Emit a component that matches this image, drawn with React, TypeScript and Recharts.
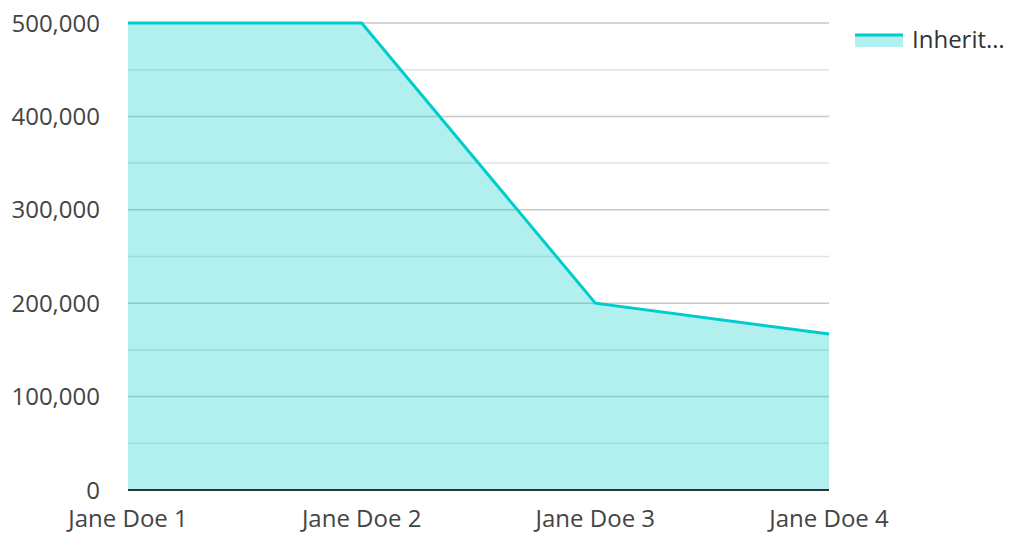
import React from "react";
import { AreaChart, Area, XAxis, YAxis, CartesianGrid, Legend } from "recharts";

const categories = ["Jane Doe 1", "Jane Doe 2", "Jane Doe 3", "Jane Doe 4"];
const inheritValues = [500000, 500000, 200000, 167000];
const yTicks = [0, 100000, 200000, 300000, 400000, 500000];
const minorTicks = [50000, 150000, 250000, 350000, 450000];
const seriesName = "Inherit…";

const data = categories.map((c, i) => ({ name: c, value: inheritValues[i] }));

const COLOR = "#00cccc";
const FONT = "'Open Sans', 'Noto Sans', sans-serif";

const fmt = (v: number) => v.toLocaleString("en-US");

const LegendContent = () => (
  <div style={{ display: "flex", alignItems: "center", fontFamily: FONT, fontSize: 24, color: "#333", whiteSpace: "nowrap" }}>
    <svg width={50} height={16} style={{ marginRight: 8 }}>
      <rect x={1} y={4} width={48} height={12} fill={COLOR} fillOpacity={0.3} />
      <line x1={1} x2={49} y1={4} y2={4} stroke={COLOR} strokeWidth={3} />
    </svg>
    <span>{seriesName}</span>
  </div>
);

export default function App() {
  return (
    <div style={{ position: "absolute", left: 0, top: 0 }}>
      <AreaChart width={1015} height={533} data={data} margin={{ top: 23, right: 186, bottom: 0, left: 0 }}>
        <CartesianGrid horizontal={true} vertical={false} horizontalValues={minorTicks} stroke="#e2e2e2" strokeWidth={1.5} />
        <CartesianGrid horizontal={true} vertical={false} stroke="#c8c8c8" strokeWidth={1.5} />
        <XAxis
          dataKey="name"
          height={43}
          tickLine={false}
          tickSize={0}
          tickMargin={20}
          axisLine={{ stroke: "#333", strokeWidth: 2 }}
          tick={{ fill: "#444", fontSize: 24, fontFamily: FONT }}
          interval={0}
        />
        <YAxis
          width={128}
          domain={[0, 500000]}
          ticks={yTicks}
          tickFormatter={fmt}
          tickLine={false}
          tickSize={0}
          tickMargin={28}
          axisLine={false}
          tick={{ fill: "#444", fontSize: 24, fontFamily: FONT }}
        />
        <Legend
          layout="vertical"
          align="center"
          verticalAlign="middle"
          content={<LegendContent />}
          wrapperStyle={{ left: 854, top: 22, width: 161 }}
        />
        <Area
          type="linear"
          dataKey="value"
          name={seriesName}
          stroke={COLOR}
          strokeWidth={3}
          fill={COLOR}
          fillOpacity={0.3}
          isAnimationActive={false}
          dot={false}
          activeDot={false}
        />
      </AreaChart>
    </div>
  );
}
